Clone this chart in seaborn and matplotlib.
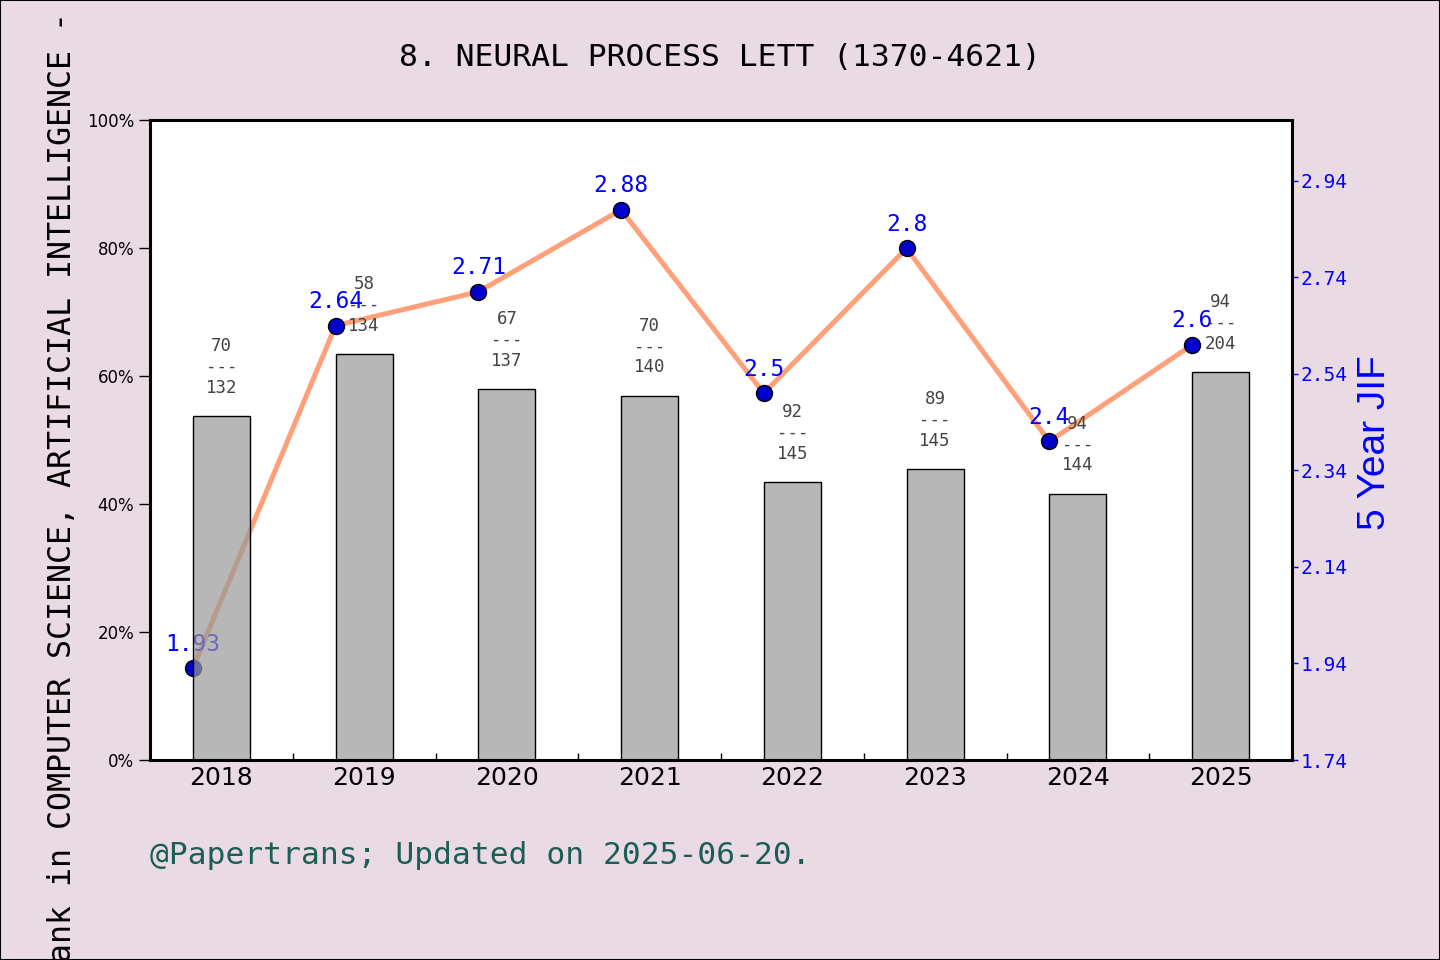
import numpy as np
import pandas as pd
import seaborn as sns
import matplotlib.pyplot as plt
from matplotlib.ticker import PercentFormatter, FixedLocator
from matplotlib.patches import Rectangle

years = ["2018", "2019", "2020", "2021", "2022", "2023", "2024", "2025"]
rank_share = [0.5375, 0.634, 0.579, 0.569, 0.434, 0.454, 0.416, 0.606]
ranks = [70, 58, 67, 70, 92, 89, 94, 94]
totals = [132, 134, 137, 140, 145, 145, 144, 204]
jif5 = [1.93, 2.64, 2.71, 2.88, 2.5, 2.8, 2.4, 2.6]
jif_ticks = [1.74, 1.94, 2.14, 2.34, 2.54, 2.74, 2.94]

bg = "#EADAE3"
mono = "DejaVu Sans Mono"

sns.set_theme(style="white")
plt.rcParams["font.family"] = ["DejaVu Sans"]

fig = plt.figure(figsize=(14.4, 9.6), dpi=100, facecolor=bg)
ax = fig.add_axes([150 / 1440, 1 - 760 / 960, 1142 / 1440, 640 / 960])
ax2 = ax.twinx()

# line on the twin axis, kept underneath the bars
ax.set_zorder(2)
ax.patch.set_visible(False)
ax2.set_zorder(1)
ax2.patch.set_facecolor("white")
ax2.patch.set_visible(True)

bar_w = 0.4
df = pd.DataFrame({"year": years, "share": rank_share})
sns.barplot(data=df, x="year", y="share", ax=ax, color="#999999",
            saturation=1, width=bar_w, linewidth=1)
for p in ax.patches:
    p.set_alpha(None)
    p.set_facecolor((0.6, 0.6, 0.6, 0.7))
    p.set_edgecolor("black")

xpos = np.arange(len(years))
# points sit on the left edge of each bar
sns.lineplot(x=xpos - bar_w / 2, y=jif5, ax=ax2, color="#FFA07A", linewidth=3.6,
             marker="o", markersize=11.5, markerfacecolor="#0000CD",
             markeredgecolor="black", markeredgewidth=1)

for i, v in enumerate(jif5):
    ax2.annotate(f"{v:g}", (xpos[i] - bar_w / 2, v), xytext=(0, 9),
                 textcoords="offset points", ha="center", va="bottom",
                 color="blue", fontsize=16.5, family=mono)

for i, v in enumerate(rank_share):
    ax.annotate(f"{ranks[i]}\n---\n{totals[i]}", (xpos[i], v), xytext=(0, 14),
                textcoords="offset points", ha="center", va="bottom",
                color="#444444", fontsize=12.5, family=mono)

ax.set_xlim(-0.5, len(years) - 0.5)
ax.set_ylim(0, 1)
ax.yaxis.set_major_formatter(PercentFormatter(1, decimals=0))
ax.set_yticks([0, 0.2, 0.4, 0.6, 0.8, 1.0])
ax.set_xlabel("")
ax.set_ylabel("")
ax.tick_params(axis="y", direction="out", length=8, width=1, labelsize=12,
               left=True, colors="black")
ax.tick_params(axis="x", which="major", length=0, labelsize=18, pad=4,
               labelcolor="black")
ax.xaxis.set_minor_locator(FixedLocator(xpos[:-1] + 0.5))
ax.tick_params(axis="x", which="minor", direction="in", length=5, width=1,
               bottom=True, color="black")
for s in ax.spines.values():
    s.set_linewidth(2.2)
    s.set_color("black")
    s.set_visible(True)

ax2.set_ylim(1.74, 3.066)
ax2.set_yticks(jif_ticks)
ax2.set_yticklabels([f"{t:.2f}" for t in jif_ticks], family=mono)
ax2.tick_params(axis="y", direction="out", length=4, width=1, colors="blue",
                labelsize=14, right=True, pad=2)
ax2.set_ylabel("")
for s in ax2.spines.values():
    s.set_visible(False)

fig.text(0.5, 1 - 57 / 960, "8. NEURAL PROCESS LETT (1370-4621)", ha="center",
         va="center", fontsize=22.6, family=mono, color="black")
fig.text(63 / 1440, 1 - 12 / 960, "Rank in COMPUTER SCIENCE, ARTIFICIAL INTELLIGENCE -",
         rotation=90, ha="center", va="top", fontsize=22.8, family=mono, color="black")
fig.text(1375 / 1440, 1 - 443 / 960, "5 Year JIF", rotation=90, ha="center",
         va="center", fontsize=28, color="blue", family="Liberation Sans")
fig.text(150 / 1440, 1 - 855 / 960, "@Papertrans; Updated on 2025-06-20.",
         ha="left", va="center", fontsize=22.5, family=mono, color="#1B5E57")

fig.patches.append(Rectangle((0, 0), 1, 1, transform=fig.transFigure, fill=False,
                             edgecolor="black", linewidth=1.5))

fig.savefig("out.png", dpi=100, facecolor=bg)
